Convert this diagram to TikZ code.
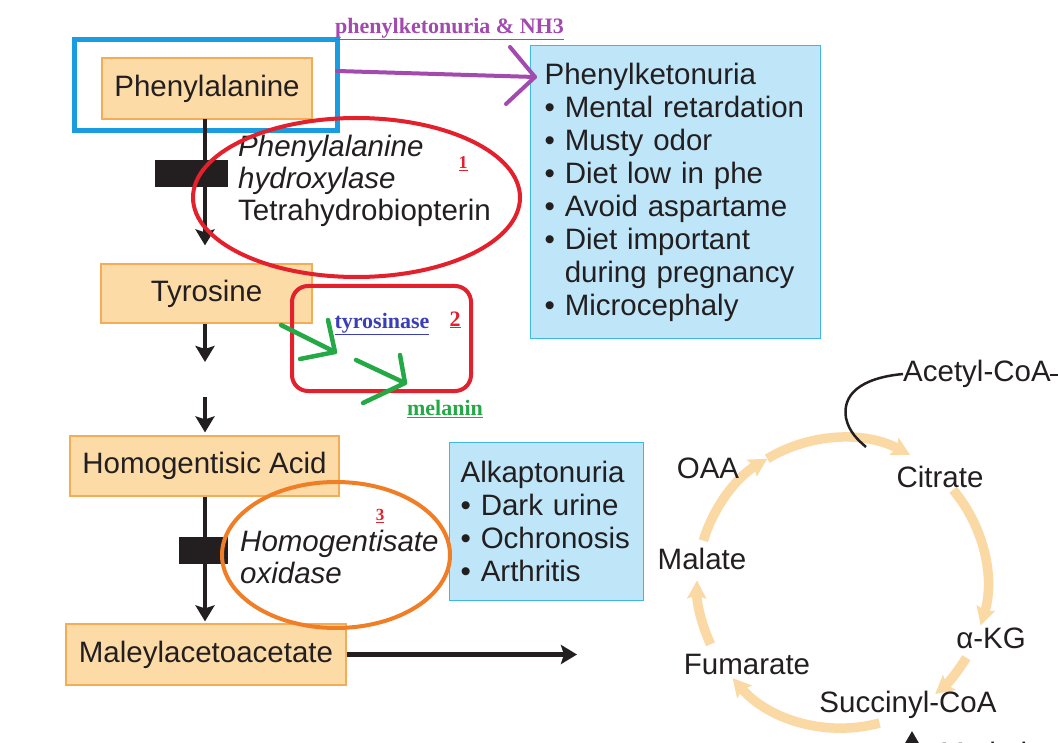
\documentclass[tikz,border=0pt]{standalone}
\usepackage{fontspec}
\setmainfont{Liberation Sans}
\newfontfamily\serifb{Liberation Serif}
\usetikzlibrary{arrows.meta}
\definecolor{boxfill}{HTML}{FCDBA7}
\definecolor{boxline}{HTML}{F5AD55}
\definecolor{infofill}{HTML}{BEE5F8}
\definecolor{infoline}{HTML}{3DB8E6}
\definecolor{hlblue}{HTML}{1A9DE0}
\definecolor{redmark}{HTML}{E3202B}
\definecolor{orangemark}{HTML}{F07E26}
\definecolor{purplemark}{HTML}{A24AAE}
\definecolor{greenmark}{HTML}{25A846}
\definecolor{bluetext}{HTML}{3A3EB8}
\definecolor{ringcol}{HTML}{FBD9A5}
\definecolor{ink}{HTML}{231F20}
\begin{document}
\begin{tikzpicture}[x=1pt,y=-1pt,
  every node/.style={text=ink, font=\fontsize{29.5}{33}\selectfont},
  metab/.style={draw=boxline, fill=boxfill, line width=1.2pt, inner sep=0pt},
  info/.style={draw=infoline, fill=infofill, line width=1.2pt, inner xsep=14pt, inner ysep=0pt, align=left},
  pathway/.style={draw=ink, line width=4.5pt, -{Stealth[length=16pt,width=19pt,inset=3pt]}},
  blockbar/.style={fill=ink},
  marknum/.style={font=\serifb\bfseries\fontsize{18}{18}\selectfont, text=redmark},
  handlabel/.style={font=\serifb\bfseries\fontsize{22}{22}\selectfont},
  greenstroke/.style={draw=greenmark, line width=4.5pt, line cap=round, line join=round},
  ringarrow/.style={draw=ringcol, line width=9.5pt, -{Stealth[length=18pt,width=19pt,inset=3pt]}},
  tcalabel/.style={font=\fontsize{29.5}{33}\selectfont}
]
\useasboundingbox (0,0) rectangle (1058,743);
\fill[white] (0,0) rectangle (1058,743);

% metabolite boxes
\node[metab, minimum width=210pt, minimum height=61pt] (phe) at (207,88.5) {Phenylalanine};
\node[metab, minimum width=211pt, minimum height=59pt] (tyr) at (206.5,293.5) {Tyrosine};
\node[metab, minimum width=269pt, minimum height=60pt] (hga) at (204.5,466) {Homogentisic Acid};
\node[metab, minimum width=280pt, minimum height=61pt] (maa) at (206,654.5) {Maleylacetoacetate};

% highlight around phenylalanine
\node[draw=hlblue, line width=5pt, minimum width=263pt, minimum height=91pt, inner sep=0pt] (hl) at (205.5,85.5) {};

% info boxes
\node[info, text width=262pt, minimum height=293pt, anchor=north west] (pku) at (530,45)
 {Phenylketonuria\\
  • Mental retardation\\
  • Musty odor\\
  • Diet low in phe\\
  • Avoid aspartame\\
  • Diet important\\
  \hphantom{• }during pregnancy\\
  • Microcephaly};
\node[info, text width=172pt, inner xsep=11pt, minimum height=158pt, anchor=north west] (alk) at (449,442)
 {Alkaptonuria\\
  • Dark urine\\
  • Ochronosis\\
  • Arthritis};

% pathway arrows
\coordinate (phex) at (205,119);
\draw[pathway, shorten >=18pt] (phex) -- (phex |- tyr.north);
\fill[blockbar] (155,160) rectangle (228,187);
\coordinate (gapA) at (205,362);
\coordinate (gapB) at (205,397);
\draw[pathway] (tyr.south -| gapA) -- (gapA);
\draw[pathway, shorten >=3pt] (gapB) -- (gapB |- hga.north);
\draw[pathway, shorten >=2pt] (hga.south -| gapA) -- (maa.north -| gapA);
\fill[blockbar] (179,537) rectangle (228,564);
\coordinate (maaout) at (577,654.5);
\draw[pathway] (maa.east) -- (maaout);

% enzyme texts
\node[anchor=west, align=left, inner sep=0pt, font=\fontsize{29.5}{32}\selectfont] (enz1) at (238,181)
 {{\itshape Phenylalanine}\\{\itshape hydroxylase}\\Tetrahydrobiopterin};
\node[anchor=west, align=left, inner sep=0pt, font=\itshape\fontsize{29.5}{32}\selectfont] (enz3) at (240,557)
 {Homogentisate\\oxidase};

% hand-drawn marks
\draw[redmark, line width=4pt] (356.5,197.5) ellipse [x radius=163.5, y radius=79.5];
\node[marknum] (n1) at (463,164) {\underline{1}};
\draw[redmark, line width=4pt, rounded corners=16pt] (292,286) rectangle (471,391);
\node[handlabel, text=bluetext] (tyrosinase) at (382,324) {\underline{tyrosinase}};
\node[marknum, font=\serifb\bfseries\fontsize{22}{22}\selectfont] (n2) at (455,320) {\underline{2}};
\node[handlabel, text=greenmark] (melanin) at (445,409) {\underline{melanin}};
\draw[orangemark, line width=4pt] (336,555) ellipse [x radius=114, y radius=73];
\node[marknum, font=\serifb\bfseries\fontsize{17}{17}\selectfont] (n3) at (380,516) {\underline{3}};

% green arrows
\coordinate (g1s) at (281,325); \coordinate (g1t) at (335,352);
\draw[greenstroke] (g1s) -- (g1t);
\draw[greenstroke] (328,320) -- (g1t) -- (300,359);
\coordinate (g2s) at (356,360); \coordinate (g2t) at (405,383);
\draw[greenstroke] (g2s) -- (g2t);
\draw[greenstroke] (400,355) -- (g2t) -- (363,403);

% purple arrow
\node[handlabel, text=purplemark] (pklabel) at (449.5,29) {\underline{phenylketonuria \& NH3}};
\coordinate (pkstart) at (337,71); \coordinate (pktip) at (535,77);
\draw[purplemark, line width=4pt, line cap=round, line join=round] (pkstart) -- (pktip);
\draw[purplemark, line width=4pt, line cap=round, line join=round] (510,47) -- (pktip) -- (506,104);

% TCA cycle
\coordinate (tca) at (842,583);
\draw[ringarrow] (tca) ++(-163:145) arc[start angle=-163, end angle=-121, radius=145];
\draw[ringarrow] (tca) ++(-121:145) arc[start angle=-121, end angle=-62, radius=145];
\draw[ringarrow] (tca) ++(-40:145) arc[start angle=-40, end angle=17, radius=145];
\draw[ringarrow] (tca) ++(31:145) arc[start angle=31, end angle=50, radius=145];
\draw[ringarrow] (tca) ++(75:145) arc[start angle=75, end angle=139, radius=145];
\draw[ringarrow] (tca) ++(155:145) arc[start angle=155, end angle=181, radius=145];

\node[tcalabel] (oaa) at (708,468) {OAA};
\node[tcalabel] (citrate) at (940,477) {Citrate};
\node[tcalabel] (malate) at (702,559) {Malate};
\node[tcalabel] (akg) at (991,638) {α-KG};
\node[tcalabel] (fumarate) at (747,664) {Fumarate};
\node[tcalabel] (succ) at (908,705) {Succinyl-CoA};
\node[tcalabel, anchor=west, inner sep=0pt] (acetyl) at (903,374) {Acetyl-CoA};
\coordinate (acin) at (866,447);
\draw[ink, line width=2.5pt] (acetyl.west) .. controls (860,378) and (842,395) .. (846,418) .. controls (849,432) and (858,440) .. (acin);
\coordinate (acR) at (1050,375); \coordinate (acRR) at (1070,375);
\draw[ink, line width=2.5pt] (acR) -- (acRR);

% bottom incoming arrow (clipped at the page edge, as in the source)
\coordinate (bin) at (912,775); \coordinate (btip) at (912,731);
\draw[ink, line width=3pt, -{Triangle[length=13pt,width=14pt]}] (bin) -- (btip);
\node[tcalabel, anchor=west, inner sep=0pt] (methyl) at (940,756) {Methylmalonyl-CoA};
\end{tikzpicture}
\end{document}
